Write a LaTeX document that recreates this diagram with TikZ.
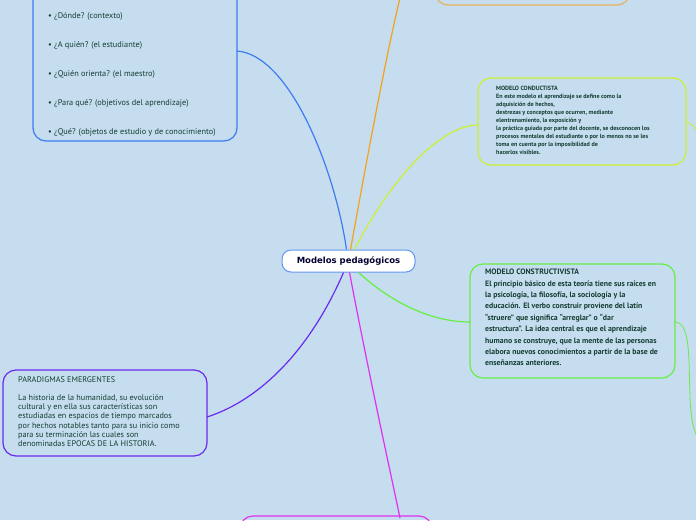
\documentclass[tikz,border=0pt]{standalone}
\usepackage{fontspec}
\setmainfont{PT Sans}
\newfontfamily\vfont{DejaVu Sans}
\begin{document}
\begin{tikzpicture}[x=1pt,y=-1pt,
  box/.style={draw,line width=1.2pt,rounded corners=13pt,fill=none},
  txt/.style={anchor=north west,inner sep=0pt,text=tcol,align=left},
  con/.style={line width=1.2pt}]
\definecolor{bg}{HTML}{C5DDEF}
\definecolor{tcol}{HTML}{143E32}
\definecolor{cblue}{HTML}{3D7BF0}
\definecolor{corange}{HTML}{F5A020}
\definecolor{cyel}{HTML}{CCF030}
\definecolor{cgreen}{HTML}{66EE44}
\definecolor{cpurple}{HTML}{6A2AF0}
\definecolor{cmag}{HTML}{E030F0}
\fill[bg] (0,0) rectangle (696,520);
\clip (0,0) rectangle (696,520);
% boxes
\draw[box,cblue] (33,-20) rectangle (237,141);
\coordinate (blue) at (237,51);
\draw[box,corange!70!bg] (435,-40) rectangle (630,5);
\coordinate (orange) at (400,-2);
\draw[box,cyel] (478,78) rectangle (686,165);
\coordinate (yel) at (478,125);
\draw[box,cgreen] (470,264) rectangle (675,378);
\coordinate (green) at (470,322);
\draw[box,cpurple] (3,370) rectangle (207,456);
\coordinate (purple) at (207,417);
\draw[box,cmag] (240,516) rectangle (432,560);
\coordinate (mag) at (400,518);
\node[draw=cblue!80!white,line width=1pt,fill=white,rounded corners=9pt,minimum width=133pt,minimum height=22pt,font=\vfont\bfseries\fontsize{8.5}{10}\selectfont,text=black!80!blue] (c) at (348.5,261) {Modelos pedagógicos};
% connectors
\draw[con,cblue] (c.north)++(-2,0) .. controls (335,170) and (290,55) .. (blue);
\draw[con,corange] (c.north)++(2,0) .. controls (365,170) and (385,60) .. (orange);
\draw[con,cyel] (c.north)++(6,0) .. controls (390,180) and (440,125) .. (yel);
\draw[con,cgreen] (c.south)++(10,0) .. controls (400,310) and (440,322) .. (green);
\draw[con,cpurple] (c.south)++(-5,0) .. controls (310,350) and (260,400) .. (purple);
\draw[con,cmag] (c.south)++(1,0) .. controls (370,380) and (390,470) .. (mag);
\draw[line width=0.8pt,cgreen] (675,322) .. controls (700,322) and (680,420) .. (700,440);
\draw[line width=0.8pt,cyel] (686,122) .. controls (692,122) and (694,128) .. (700,135);
% texts
\node[txt,font=\fontsize{8.3}{9}\selectfont] (bt) at (48,12) {%
\textbullet\ ¿Dónde? (contexto)\\[20pt]
\textbullet\ ¿A quién? (el estudiante)\\[20pt]
\textbullet\ ¿Quién orienta? (el maestro)\\[20pt]
\textbullet\ ¿Para qué? (objetivos del aprendizaje)\\[20pt]
\textbullet\ ¿Qué? (objetos de estudio y de conocimiento)};
\node[txt,font=\bfseries\fontsize{6.1}{8}\selectfont] (yt) at (496,86) {%
MODELO CONDUCTISTA\\
En este modelo el aprendizaje se define como la\\
adquisición de hechos,\\
destrezas y conceptos que ocurren, mediante\\
elentrenamiento, la exposición y\\
la práctica guiada por parte del docente, se desconocen los\\
procesos mentales del estudiante o por lo menos no se les\\
toma en cuenta por la imposibilidad de\\
hacerlos visibles.};
\node[txt,font=\bfseries\fontsize{7.8}{11.4}\selectfont] (gt) at (485,269) {%
MODELO CONSTRUCTIVISTA\\
El principio básico de esta teoría tiene sus raíces en\\
la psicología, la filosofía, la sociología y la\\
educación. El verbo construir proviene del latín\\
“struere” que significa “arreglar” o “dar\\
estructura”. La idea central es que el aprendizaje\\
humano se construye, que la mente de las personas\\
elabora nuevos conocimientos a partir de la base de\\
enseñanzas anteriores.};
\node[txt,font=\fontsize{8.2}{9.3}\selectfont] (pt) at (18,376) {%
PARADIGMAS EMERGENTES\\[9pt]
La historia de la humanidad, su evolución\\
cultural y en ella sus características son\\
estudiadas en espacios de tiempo marcados\\
por hechos notables tanto para su inicio como\\
para su terminación las cuales son\\
denominadas EPOCAS DE LA HISTORIA.};
\end{tikzpicture}
\end{document}
